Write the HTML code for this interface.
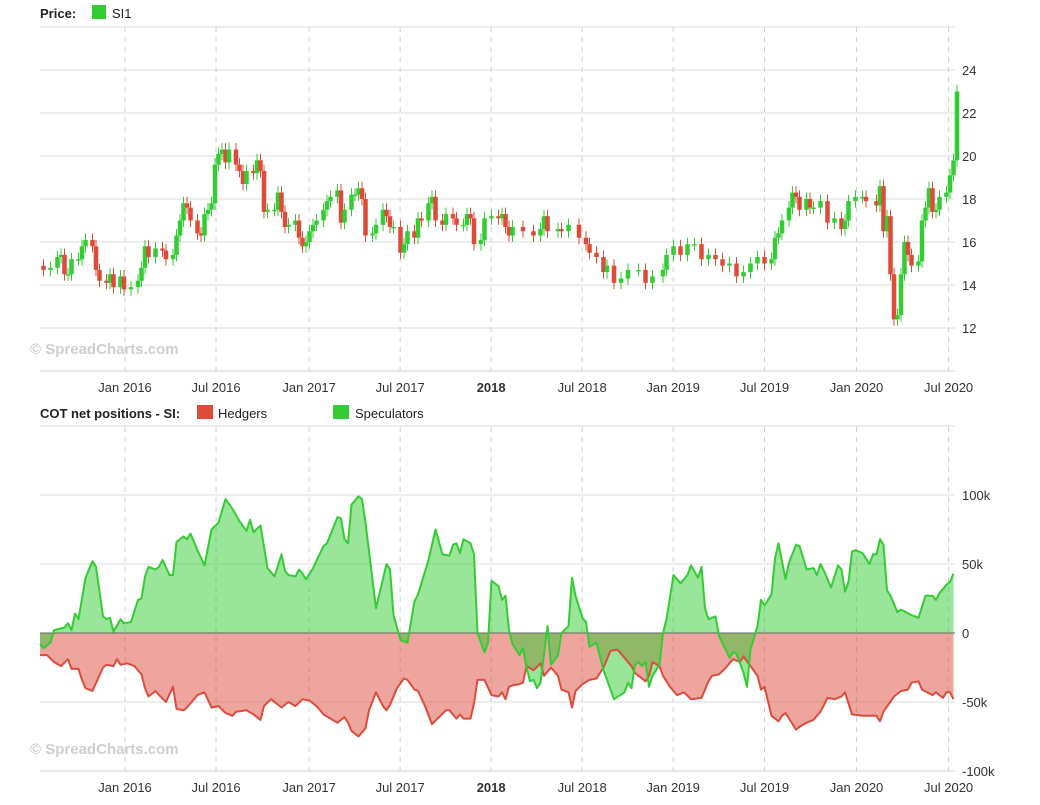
<!DOCTYPE html>
<html><head><meta charset="utf-8">
<style>
html,body{margin:0;padding:0;background:#fff;}
body{width:1040px;height:800px;overflow:hidden;font-family:"Liberation Sans",sans-serif;}
svg text{font-family:"Liberation Sans",sans-serif;}
</style></head>
<body>
<svg id="chart" width="1040" height="800" xmlns="http://www.w3.org/2000/svg">
  <g id="grid"></g>
  <g id="price"></g>
  <g id="cot"></g>
  <g id="labels"></g>
  <text x="40" y="18" font-size="13" font-weight="bold" fill="#222">Price:</text>
  <rect x="92" y="5" width="14" height="14" fill="#33cc33"/>
  <text x="112" y="18" font-size="13" fill="#222">SI1</text>
  <text x="40" y="418" font-size="13" font-weight="bold" fill="#222">COT net positions - SI:</text>
  <rect x="197" y="405" width="16" height="14" fill="#dd4b39"/>
  <text x="218" y="418" font-size="13" fill="#222">Hedgers</text>
  <rect x="333" y="405" width="16" height="14" fill="#33cc33"/>
  <text x="355" y="418" font-size="13" fill="#222">Speculators</text>
  <text x="30" y="354" font-size="15" font-weight="bold" fill="#cfcfcf">© SpreadCharts.com</text>
  <text x="30" y="754" font-size="15" font-weight="bold" fill="#cfcfcf">© SpreadCharts.com</text>
</svg>
<script>
// ---- data ----
const xTickWeeks = [24.3, 50.3, 76.9, 102.9, 128.9, 154.9, 180.9, 207, 233.3, 259.6];
const xTickLabels = ["Jan 2016","Jul 2016","Jan 2017","Jul 2017","2018","Jul 2018","Jan 2019","Jul 2019","Jan 2020","Jul 2020"];
const priceTicks = [12,14,16,18,20,22,24,26];
const cotTicks = [-100,-50,0,50,100,150];
const cotTickLabels = ["-100k","-50k","0","50k","100k",""];

const priceWeeks = [1,3,5,6,7,8,9,11,12,13,15,16,17,19,20,21,23,24,26,28,29,30,31,33,35,36,38,39,40,41,42,43,45,46,47,48,49,50,51,52,53,54,56,57,58,59,61,62,63,64,65,67,68,69,70,71,73,74,75,76,77,78,79,81,82,83,85,86,87,89,90,91,92,93,95,96,98,99,100,101,103,104,105,107,108,109,111,112,113,115,116,118,119,121,122,123,124,126,127,129,131,132,133,134,135,138,141,143,144,145,148,149,151,154,156,157,159,161,162,164,166,168,171,173,175,178,179,181,183,185,187,189,191,193,195,197,199,201,203,205,207,209,210,211,212,214,215,216,217,219,220,221,223,225,227,229,230,231,233,235,236,239,240,241,242,243,244,245,246,247,248,249,251,252,253,254,255,256,257,259,260,261,262];
const priceClose = [14.7,14.8,15.3,15.4,14.5,14.5,15.2,15.2,15.8,16.1,15.8,14.7,14.2,14.1,14.5,13.9,14.4,13.8,13.9,14.2,14.8,15.8,15.3,15.7,15.6,15.2,15.4,16.3,17.0,17.8,17.6,17.0,16.4,16.3,17.3,17.5,17.8,19.6,20.1,20.3,19.7,20.3,19.6,19.3,18.7,19.3,19.2,19.8,19.3,17.4,17.5,17.5,18.3,17.4,16.7,16.8,17.0,16.2,15.8,16.0,16.5,16.8,17.0,17.5,17.9,18.1,18.4,16.9,17.5,18.2,18.2,18.5,18.0,16.3,16.4,16.8,17.5,17.2,16.7,16.7,15.5,15.9,16.5,16.2,17.1,17.0,17.8,18.1,17.0,16.8,17.3,17.1,16.8,16.8,17.3,17.1,15.9,16.1,17.1,17.2,17.1,17.3,16.7,16.3,16.7,16.5,16.3,16.6,17.2,16.5,16.6,16.5,16.8,16.2,15.9,15.5,15.3,14.6,14.9,14.1,14.3,14.7,14.7,14.1,14.4,14.7,15.4,15.8,15.4,15.9,15.9,15.2,15.4,15.2,14.9,15.0,14.4,14.6,15.0,15.3,15.0,15.2,16.2,16.4,17.0,17.6,18.3,18.1,17.5,18.0,17.6,17.6,17.9,16.9,17.1,16.6,17.0,17.9,18.1,18.1,17.9,17.7,18.6,16.5,17.2,14.5,12.4,12.6,14.5,16.0,15.4,14.9,15.1,17.0,17.6,18.5,17.4,17.5,18.1,18.3,19.1,19.8,23.0];
const priceOpen0 = 14.9;

const specWeeks = [0,1,3,4,7,8,9,10,11,12,13,15,16,18,19,20,21,23,24,26,28,29,30,31,33,34,35,37,38,39,41,42,43,45,47,49,51,53,55,57,59,60,61,63,65,67,69,70,71,73,74,75,76,78,81,82,85,86,87,88,89,91,92,93,96,99,100,101,103,105,107,108,111,113,115,117,118,119,120,121,123,124,125,127,128,129,131,132,133,134,135,137,138,139,140,141,142,143,145,146,148,149,151,152,153,155,156,157,159,161,164,167,168,169,170,171,172,173,174,175,177,178,179,181,183,185,186,188,189,190,191,193,194,197,198,199,201,202,203,205,206,207,209,210,211,213,214,216,217,218,219,221,222,223,224,226,228,229,230,231,232,233,235,237,238,239,240,241,242,243,245,246,249,251,253,255,256,257,259,260,261];
const specValues = [-8,-11,-7,2,4,7,2,14,10,25,40,52,48,12,10,11,1,10,7,8,24,25,41,48,46,48,53,42,42,66,70,68,72,60,49,75,80,97,90,81,74,82,73,78,47,41,57,45,42,41,46,43,39,47,63,65,84,83,68,65,93,99,97,80,18,50,46,13,-5,-7,23,28,53,75,57,56,64,65,58,68,65,57,0,-14,-7,38,34,24,27,2,-8,-16,-11,-25,-35,-34,-40,-36,5,-23,-16,0,5,40,27,11,8,-10,-7,-27,-48,-43,-36,-40,-23,-21,-24,-21,-39,-31,-23,0,10,42,36,42,49,40,48,18,10,12,-2,-18,-14,-15,-29,-39,-12,5,24,20,28,54,65,39,51,64,63,55,46,47,42,50,45,33,49,46,30,37,59,60,58,50,57,57,68,64,31,27,15,17,13,11,27,27,24,29,35,37,43];

const hedgeWeeks = [0,2,4,6,8,9,11,12,13,15,18,19,21,22,23,25,27,29,30,31,33,34,36,38,39,41,42,45,47,49,51,53,55,56,59,61,63,64,66,69,71,73,75,77,79,81,83,85,87,88,89,91,93,94,96,98,99,100,102,104,105,107,108,110,112,114,116,117,119,120,121,123,124,125,127,129,131,132,133,134,135,137,138,139,141,143,144,146,148,149,151,152,153,155,157,159,161,163,165,167,169,170,171,173,174,175,177,178,180,182,184,186,189,191,192,194,196,198,200,201,203,205,206,207,209,211,212,213,216,217,219,221,223,225,227,229,230,232,235,239,240,241,244,246,248,249,251,252,255,256,258,259,260,261];
const hedgeValues = [-16,-16,-21,-24,-19,-26,-26,-34,-40,-42,-25,-23,-24,-19,-23,-22,-24,-30,-40,-46,-42,-45,-50,-39,-55,-56,-54,-45,-43,-54,-53,-58,-60,-57,-56,-59,-63,-53,-48,-54,-50,-53,-48,-49,-53,-59,-62,-65,-61,-65,-71,-75,-69,-56,-43,-53,-56,-52,-40,-33,-34,-41,-42,-53,-66,-61,-56,-56,-62,-59,-62,-62,-51,-34,-34,-45,-46,-43,-48,-39,-38,-37,-36,-24,-27,-22,-31,-25,-31,-41,-43,-54,-42,-37,-34,-33,-25,-13,-12,-18,-24,-29,-31,-35,-31,-21,-24,-31,-39,-45,-43,-48,-47,-35,-31,-30,-25,-19,-21,-17,-24,-31,-41,-39,-60,-64,-60,-58,-70,-68,-65,-63,-57,-47,-48,-46,-43,-59,-60,-60,-64,-57,-46,-42,-41,-36,-35,-41,-45,-43,-47,-43,-43,-48];

// ---- scales ----
const NS = "http://www.w3.org/2000/svg";
function xScale(w){ return 40 + w*3.5; }
function yPrice(p){ return 70 + (24-p)*21.5; }
function yCot(v){ return 633 - v*1.38; }
function mk(tag, parent, attrs){
  const e = document.createElementNS(NS, tag);
  for (const k in attrs) e.setAttribute(k, attrs[k]);
  parent.appendChild(e);
  return e;
}
const grid = document.getElementById('grid');
const labels = document.getElementById('labels');
const price = document.getElementById('price');
const cot = document.getElementById('cot');

priceTicks.forEach(function(t){
  const y = yPrice(t);
  const l = mk('line', grid, {x1:40, x2:955, y1:y, y2:y, stroke:'#dcdcdc', 'stroke-width':1});
  
  
  if (t <= 24) {
    const tx = mk('text', labels, {x:962, y:y+5, 'font-size':13, fill:'#333'});
    tx.textContent = String(t);
    
    
  }
});
cotTicks.forEach(function(t, i){
  const y = yCot(t);
  const l = mk('line', grid, {x1:40, x2:955, y1:y, y2:y, stroke:'#dcdcdc', 'stroke-width':1});
  
  
  if (cotTickLabels[i]) {
    const tx = mk('text', labels, {x:962, y:y+5, 'font-size':13, fill:'#333'});
    tx.textContent = cotTickLabels[i];
    
    
  }
});
[371, 771].forEach(function(y){
  const l = mk('line', grid, {x1:40, x2:955, y1:y, y2:y, stroke:'#d0d0d0', 'stroke-width':1});
  
  
});
xTickWeeks.forEach(function(w, i){
  const x = xScale(w);
  [[27,371,387],[427,771,787]].forEach(function(r){
    const l = mk('line', grid, {x1:x, x2:x, y1:r[0], y2:r[1], stroke:'#cfcfcf', 'stroke-width':1, 'stroke-dasharray':'5,5'});
    
    
    const tx = mk('text', labels, {x:x, y:r[2]+5, 'font-size':13, fill:'#333', 'text-anchor':'middle'});
    if (xTickLabels[i] === '2018') tx.setAttribute('font-weight', 'bold');
    tx.textContent = xTickLabels[i];
    
    
  });
});

priceClose.forEach(function(c, i){
  const o = i === 0 ? priceOpen0 : priceClose[i-1];
  const hi = Math.max(o, c) + 0.3, lo = Math.min(o, c) - 0.3;
  const x = xScale(priceWeeks[i]);
  const col = c >= o ? '#33cc33' : '#dd4b39';
  const wk = mk('line', price, {x1:x, x2:x, y1:yPrice(hi), y2:yPrice(lo), stroke:col, 'stroke-width':1});
  
  
  const yt = yPrice(Math.max(o, c)), yb = yPrice(Math.min(o, c));
  const b = mk('rect', price, {x:x-2.25, y:yt, width:4.5, height:Math.max(1.5, yb-yt), fill:col});
  
  
});

function linePts(weeks, vals){ return weeks.map(function(w, i){ return xScale(w).toFixed(1)+','+yCot(vals[i]).toFixed(1); }); }
function areaD(weeks, vals){
  const pts = linePts(weeks, vals);
  return 'M'+xScale(weeks[0])+','+yCot(0)+' L'+pts.join(' L')+' L'+xScale(weeks[weeks.length-1])+','+yCot(0)+' Z';
}
const hA = mk('path', cot, {d:areaD(hedgeWeeks, hedgeValues), fill:'rgba(219,76,60,0.5)'});


const sA = mk('path', cot, {d:areaD(specWeeks, specValues), fill:'rgba(51,204,51,0.5)'});


const zl = mk('line', cot, {x1:40, x2:955, y1:yCot(0), y2:yCot(0), stroke:'#666', 'stroke-width':1});


const hL = mk('polyline', cot, {points:linePts(hedgeWeeks, hedgeValues).join(' '), fill:'none', stroke:'#db4c3c', 'stroke-width':2, 'stroke-linejoin':'round'});


const sL = mk('polyline', cot, {points:linePts(specWeeks, specValues).join(' '), fill:'none', stroke:'#33cc33', 'stroke-width':2, 'stroke-linejoin':'round'});


</script>
</body></html>
